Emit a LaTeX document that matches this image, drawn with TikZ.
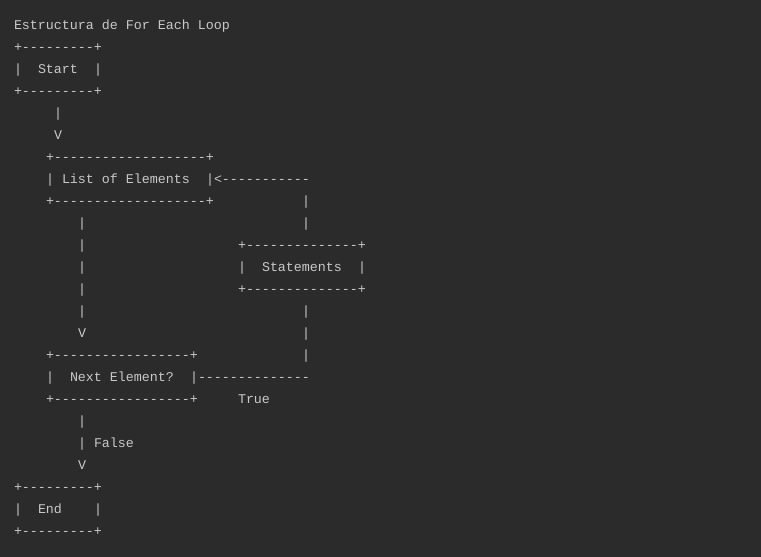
\documentclass[tikz,border=0pt]{standalone}
\usepackage{fontspec}
\setmonofont{Liberation Mono}
\definecolor{bgc}{HTML}{2B2B2B}
\definecolor{txt}{HTML}{C8C8C8}
\newcommand{\T}[4]{\node[asc] (#1) at ({14bp+#2*8bp},{-29bp-(#3-1)*22bp}) {#4};}
\begin{document}
\begin{tikzpicture}[
  asc/.style={anchor=base west, inner sep=0pt, outer sep=0pt, text=txt,
    font=\ttfamily\fontsize{13.33bp}{16bp}\selectfont}]
\fill[bgc] (0,0) rectangle (761bp,-557bp);
\useasboundingbox (0,0) rectangle (761bp,-557bp);
\T{title}{0}{1}{Estructura de For Each Loop}
\T{sTop}{0}{2}{+---------+}
\T{sL}{0}{3}{|}
\T{start}{3}{3}{Start}
\T{sR}{10}{3}{|}
\T{sBot}{0}{4}{+---------+}
\T{a1}{5}{5}{|}
\T{a1h}{5}{6}{V}
\T{lTop}{4}{7}{+-------------------+}
\T{lL}{4}{8}{|}
\T{list}{6}{8}{List of Elements}
\T{lR}{24}{8}{|<-----------}
\T{lBot}{4}{9}{+-------------------+}
\T{r9}{36}{9}{|}
\T{d10}{8}{10}{|}
\T{r10}{36}{10}{|}
\T{d11}{8}{11}{|}
\T{stTop}{28}{11}{+--------------+}
\T{d12}{8}{12}{|}
\T{stL}{28}{12}{|}
\T{stat}{31}{12}{Statements}
\T{stR}{43}{12}{|}
\T{d13}{8}{13}{|}
\T{stBot}{28}{13}{+--------------+}
\T{d14}{8}{14}{|}
\T{r14}{36}{14}{|}
\T{d15}{8}{15}{V}
\T{r15}{36}{15}{|}
\T{nTop}{4}{16}{+-----------------+}
\T{r16}{36}{16}{|}
\T{nL}{4}{17}{|}
\T{next}{7}{17}{Next Element?}
\T{nR}{22}{17}{|--------------}
\T{nBot}{4}{18}{+-----------------+}
\T{true}{28}{18}{True}
\T{f19}{8}{19}{|}
\T{f20}{8}{20}{|}
\T{false}{10}{20}{False}
\T{f21}{8}{21}{V}
\T{eTop}{0}{22}{+---------+}
\T{eL}{0}{23}{|}
\T{endt}{3}{23}{End}
\T{eR}{10}{23}{|}
\T{eBot}{0}{24}{+---------+}
\end{tikzpicture}
\end{document}
